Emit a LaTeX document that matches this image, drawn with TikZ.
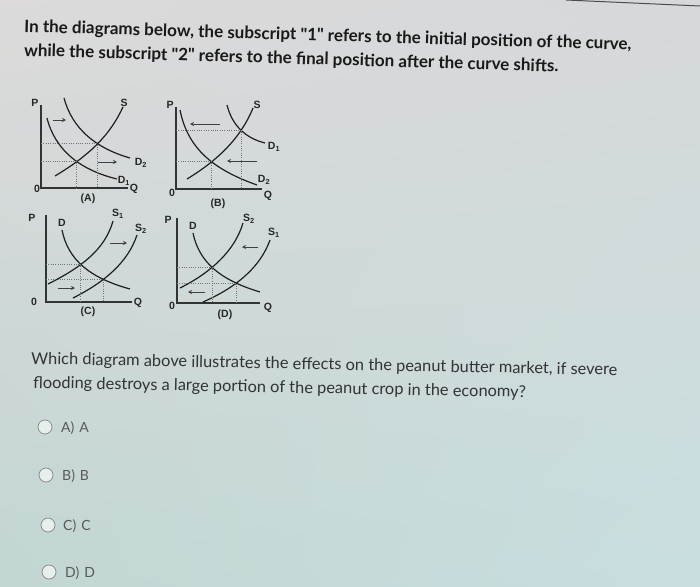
\documentclass[tikz,border=0pt]{standalone}
\usepackage{fontspec}
\setmainfont{Lato}
\newfontfamily\lab{Liberation Sans}
\usetikzlibrary{intersections,arrows.meta,shadings}
\definecolor{bgA}{HTML}{DCDADA}
\definecolor{bgB}{HTML}{D6D8DA}
\definecolor{bgC}{HTML}{C2D6D3}
\definecolor{bgD}{HTML}{C8DEDF}
\begin{document}
\begin{tikzpicture}[x=1pt,y=-1pt,
  ax/.style={line width=1.2pt, draw=black!80},
  crv/.style={line width=1.2pt, draw=black!88},
  guide/.style={line width=0.8pt, draw=black!55, dash pattern=on 1pt off 1.3pt},
  shiftarrow/.style={line width=1pt, draw=black!75, -{Stealth[length=4pt,width=4pt]}},
  lbl/.style={font=\lab\bfseries\fontsize{10.5}{11}\selectfont, text=black!85, inner sep=0pt},
  head/.style={font=\bfseries\fontsize{17}{20}\selectfont, text=black!90, inner sep=0pt, anchor=base west, rotate=-1.7},
  quest/.style={font=\fontsize{16.4}{19}\selectfont, text=black!80, inner sep=0pt, anchor=base west, rotate=-1.1},
  radio/.style={circle, draw=black!45, line width=0.8pt, fill=white!60!bgC, minimum size=14pt, inner sep=0pt},
  opt/.style={font=\fontsize{14}{16}\selectfont, text=black!65, inner sep=0pt, anchor=base west}]
\useasboundingbox (0,0) rectangle (700,586);
\shade[upper left=bgA, upper right=bgB, lower left=bgC, lower right=bgD] (0,0) rectangle (700,586);
\draw[black!70, line width=1pt] (566,0) -- (700,6);

% heading text
\node[head] (t1) at (24,32) {In the diagrams below, the subscript \textquotedbl 1\textquotedbl{} refers to the initial position of the curve,};
\node[head] (t2) at (24,56) {while the subscript \textquotedbl 2\textquotedbl{} refers to the final position after the curve shifts.};

% ---------- Diagram A ----------
\coordinate (Ao) at (41,188);
\draw[ax] (41,105) -- (Ao) -- (128,188);
\draw[crv,name path=AS] (55,176) .. controls (90,155) and (110,135) .. (123,107);
\draw[crv,name path=AD1] (47,118) .. controls (55,150) and (80,170) .. (117,179);
\draw[crv,name path=AD2] (64,98) .. controls (72,128) and (95,148) .. (130,158);
\path[name intersections={of=AS and AD1,by=Ae1}];
\path[name intersections={of=AS and AD2,by=Ae2}];
\draw[guide] (Ao |- Ae1) -- (Ae1) -- (Ae1 |- Ao);
\draw[guide] (Ao |- Ae2) -- (Ae2) -- (Ae2 |- Ao);
\coordinate (Aa1) at (53,120); \coordinate (Ab1) at (66,120);
\coordinate (Aa2) at (98,162); \coordinate (Ab2) at (117,162);
\draw[shiftarrow] (Aa1) -- (Ab1);
\draw[shiftarrow] (Aa2) -- (Ab2);
\node[lbl] (AP) at (35,103) {P};
\node[lbl] (ASl) at (124,103) {S};
\node[lbl] (AD2l) at (141,163) {D\textsubscript{2}};
\node[lbl] (AD1l) at (124,181) {D\textsubscript{1}};
\node[lbl] (A0) at (37,189) {0};
\node[lbl] (AQ) at (134,189) {Q};
\node[lbl] (AT) at (88,199) {(A)};

% ---------- Diagram B ----------
\coordinate (Bo) at (176,189);
\draw[ax] (176,107) -- (Bo) -- (262,189);
\draw[crv,name path=BS] (187,179) .. controls (215,162) and (240,140) .. (253,108);
\draw[crv,name path=BD1] (227,105) .. controls (232,125) and (245,138) .. (265,143);
\draw[crv,name path=BD2] (180,110) .. controls (188,150) and (215,170) .. (257,185);
\path[name intersections={of=BS and BD1,by=Be1}];
\path[name intersections={of=BS and BD2,by=Be2}];
\draw[guide] (Bo |- Be1) -- (Be1) -- (Be1 |- Bo);
\draw[guide] (Bo |- Be2) -- (Be2) -- (Be2 |- Bo);
\coordinate (Ba1) at (220,124); \coordinate (Bb1) at (190,124);
\coordinate (Ba2) at (257,161); \coordinate (Bb2) at (227,161);
\draw[shiftarrow] (Ba1) -- (Bb1);
\draw[shiftarrow] (Ba2) -- (Bb2);
\node[lbl] (BP) at (170,105) {P};
\node[lbl] (BSl) at (257,105) {S};
\node[lbl] (BD1l) at (274,147) {D\textsubscript{1}};
\node[lbl] (BD2l) at (264,180) {D\textsubscript{2}};
\node[lbl] (B0) at (172,193) {0};
\node[lbl] (BQ) at (268,196) {Q};
\node[lbl] (BT) at (218,204) {(B)};

% ---------- Diagram C ----------
\coordinate (Co) at (46,302);
\draw[ax] (46,215) -- (Co) -- (132,302);
\draw[crv,name path=CS1] (48,284) .. controls (80,268) and (105,250) .. (113,221);
\draw[crv,name path=CS2] (73,298) .. controls (105,282) and (128,262) .. (137,235);
\draw[crv,name path=CD] (62,230) .. controls (68,260) and (90,278) .. (130,289);
\path[name intersections={of=CS1 and CD,by=Ce1}];
\path[name intersections={of=CS2 and CD,by=Ce2}];
\draw[guide] (Co |- Ce1) -- (Ce1) -- (Ce1 |- Co);
\draw[guide] (Co |- Ce2) -- (Ce2) -- (Ce2 |- Co);
\coordinate (Ca1) at (110,243); \coordinate (Cb1) at (127,243);
\coordinate (Ca2) at (58,288); \coordinate (Cb2) at (75,288);
\draw[shiftarrow] (Ca1) -- (Cb1);
\draw[shiftarrow] (Ca2) -- (Cb2);
\node[lbl] (CP) at (32,218) {P};
\node[lbl] (CDl) at (62,223) {D};
\node[lbl] (CS1l) at (118,214) {S\textsubscript{1}};
\node[lbl] (CS2l) at (141,229) {S\textsubscript{2}};
\node[lbl] (C0) at (34,302) {0};
\node[lbl] (CQ) at (138,303) {Q};
\node[lbl] (CT) at (88,312) {(C)};

% ---------- Diagram D ----------
\coordinate (Do) at (177,303);
\draw[ax] (177,218) -- (Do) -- (260,303);
\draw[crv,name path=DS2] (180,288) .. controls (212,272) and (235,250) .. (243,223);
\draw[crv,name path=DS1] (203,302) .. controls (235,288) and (260,268) .. (270,240);
\draw[crv,name path=DD] (193,233) .. controls (199,262) and (220,280) .. (260,292);
\path[name intersections={of=DS2 and DD,by=De2}];
\path[name intersections={of=DS1 and DD,by=De1}];
\draw[guide] (Do |- De1) -- (De1) -- (De1 |- Do);
\draw[guide] (Do |- De2) -- (De2) -- (De2 |- Do);
\coordinate (Da1) at (258,247); \coordinate (Db1) at (242,247);
\coordinate (Da2) at (205,292); \coordinate (Db2) at (188,292);
\draw[shiftarrow] (Da1) -- (Db1);
\draw[shiftarrow] (Da2) -- (Db2);
\node[lbl] (DP) at (168,220) {P};
\node[lbl] (DDl) at (193,226) {D};
\node[lbl] (DS2l) at (249,219) {S\textsubscript{2}};
\node[lbl] (DS1l) at (274,233) {S\textsubscript{1}};
\node[lbl] (D0) at (172,306) {0};
\node[lbl] (DQ) at (268,308) {Q};
\node[lbl] (DT) at (225,315) {(D)};

% question
\node[quest] (q1) at (31,364) {Which diagram above illustrates the effects on the peanut butter market, if severe};
\node[quest] (q2) at (33,388) {flooding destroys a large portion of the peanut crop in the economy?};

% options
\node[radio] (ra) at (45,427) {};
\node[opt] (oa) at (61,432) {A)\hspace{5pt}A};
\node[radio] (rb) at (46,475) {};
\node[opt] (ob) at (62,480) {B)\hspace{5pt}B};
\node[radio] (rc) at (48,525) {};
\node[opt] (oc) at (63,530) {C)\hspace{5pt}C};
\node[radio] (rd) at (49,572) {};
\node[opt] (od) at (65,577) {D)\hspace{5pt}D};
\end{tikzpicture}
\end{document}
